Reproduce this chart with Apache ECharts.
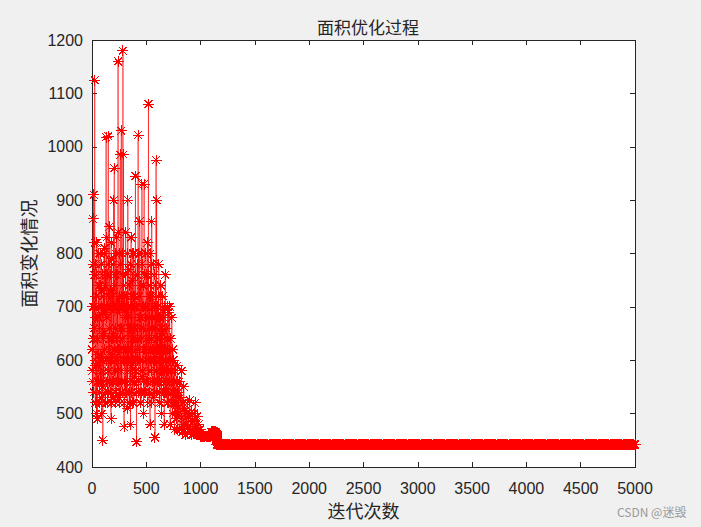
<!DOCTYPE html>
<html><head><meta charset="utf-8">
<script src="https://cdn.jsdelivr.net/npm/echarts/dist/echarts.min.js"></script>
<style>html,body{margin:0;padding:0;background:#f0f0f0;}#c{width:701px;height:527px;}#c svg path{shape-rendering:crispEdges;}</style>
</head><body><div id="c"></div>
<script>
// Iterations 1..995 (noisy search phase)
const earlyIter = [
1,5,10,15,20,25,30,35,40,45,50,55,60,65,70,75,80,85,90,95,
100,105,110,115,120,125,130,135,140,145,150,155,160,165,170,175,180,185,190,195,
200,205,210,215,220,225,230,235,240,245,250,255,260,265,270,275,280,285,290,295,
300,305,310,315,320,325,330,335,340,345,350,355,360,365,370,375,380,385,390,395,
400,405,410,415,420,425,430,435,440,445,450,455,460,465,470,475,480,485,490,495,
500,505,510,515,520,525,530,535,540,545,550,555,560,565,570,575,580,585,590,595,
600,605,610,615,620,625,630,635,640,645,650,655,660,665,670,675,680,685,690,695,
700,705,710,715,720,725,730,735,740,745,750,755,760,765,770,775,780,785,790,795,
800,805,810,815,820,825,830,835,840,845,850,855,860,865,870,875,880,885,890,895,
900,905,910,915,920,925,930,935,940,945,950,955,960,965,970,975,980,985,990,995];
const earlyArea = [
620,560,865,910,700,1125,520,780,590,820,490,680,610,740,540,800,575,700,500,650,
450,720,580,810,540,690,1018,600,760,520,1020,640,850,560,730,490,790,610,700,530,
900,960,580,760,520,830,640,710,1160,560,800,620,985,540,1030,660,760,1180,985,475,
720,560,840,600,690,510,900,620,770,540,700,480,830,590,750,520,660,800,570,720,
945,600,447,780,640,1022,560,720,860,520,680,800,930,570,740,500,930,620,700,540,
760,600,820,520,1080,640,720,480,800,580,860,620,700,530,780,600,455,740,975,900,
560,700,620,780,520,680,600,740,500,650,720,560,690,480,620,760,540,660,580,700,
520,690,600,700,480,640,560,680,500,620,540,600,470,580,520,560,490,590,470,540,
500,560,470,530,490,580,465,520,480,550,470,510,460,500,480,520,465,495,470,500,
525,470,490,460,505,470,485,462,500,470,520,465,480,462,495,470,462,480,462,470];
// Extra samples in the dense band
const midIter = [
3,8,13,18,23,28,33,38,43,48,53,58,63,68,73,78,83,88,93,98,
103,108,113,118,123,128,133,138,143,148,153,158,163,168,173,178,183,188,193,198,
203,208,213,218,223,228,233,238,243,248,253,258,263,268,273,278,283,288,293,298,
303,308,313,318,323,328,333,338,343,348,353,358,363,368,373,378,383,388,393,398,
403,408,413,418,423,428,433,438,443,448,453,458,463,468,473,478,483,488,493,498,
503,508,513,518,523,528,533,538,543,548,553,558,563,568,573,578,583,588,593,598,
603,608,613,618,623,628,633,638,643,648,653,658,663,668,673,678,683,688,693,698,
703,708,713,718,723,728,733,738,743,748,753,758,763,768,773,778,783,788,793,798];
const midArea = [
580,700,640,540,760,600,680,520,720,560,640,590,700,520,660,610,560,730,600,550,
640,560,700,620,520,760,600,680,540,720,580,660,620,700,540,640,600,720,560,650,
620,700,540,660,600,760,560,690,620,530,720,600,660,580,700,540,640,620,700,560,
600,680,540,720,620,560,700,600,520,660,620,580,700,540,640,600,720,560,660,600,
620,540,700,600,660,560,720,620,580,680,540,640,700,600,560,660,620,540,680,600,
640,560,700,620,580,660,540,720,600,640,560,680,620,600,540,700,600,660,580,640,
620,560,680,600,540,640,580,660,560,620,600,540,640,580,620,560,600,540,620,580,
580,540,620,560,600,520,580,540,600,520,560,540,580,500,540,520,560,500,530,510];
const extraIter = [
6,11,16,21,26,31,36,41,46,51,56,61,66,71,76,81,86,91,96,101,
106,111,116,121,126,131,136,141,146,151,156,161,166,171,176,181,186,191,196,201,
206,211,216,221,226,231,236,241,246,251,256,261,266,271,276,281,286,291,296,301,
306,311,316,321,326,331,336,341,346,351,356,361,366,371,376,381,386,391,396,401,
406,411,416,421,426,431,436,441,446,451,456,461,466,471,476,481,486,491,496,501,
506,511,516,521,526,531,536,541,546,551,556,561,566,571,576,581,586,591,596,601,
606,611,616,621,626,631,636,641,646,651,656,661,666,671,676,681,686,691,696,701];
const extraArea = [
700,780,540,660,820,590,720,500,760,640,560,800,680,520,740,600,780,530,690,760,
560,800,650,520,740,600,830,560,700,780,540,660,760,600,820,520,700,640,780,560,
740,620,800,540,700,760,580,840,620,700,520,780,640,720,560,800,600,740,520,700,
620,760,540,700,800,580,680,740,520,660,780,600,720,560,800,640,520,700,760,580,
700,560,760,620,540,800,680,600,740,520,660,780,580,700,620,760,540,680,800,600,
560,700,760,600,680,540,740,620,780,520,660,720,600,760,560,680,740,620,540,700,
640,720,560,680,600,740,520,660,700,580,620,680,540,700,600,560,660,520,640,580];
// Plateau phase
const stepIter = [1000,1010,1020,1030,1040,1050,1060,1070,1080,1090,1100,1110,1120,1130,1140];
const stepArea = [458,458,458,458,458,458,458,458,458,458,466,466,466,466,466];
// Converged phase
const tailIter = [
1150,1160,1170,1180,1190,
1200,1210,1220,1230,1240,1250,1260,1270,1280,1290,
1300,1310,1320,1330,1340,1350,1360,1370,1380,1390,
1400,1410,1420,1430,1440,1450,1460,1470,1480,1490,
1500,1510,1520,1530,1540,1550,1560,1570,1580,1590,
1600,1610,1620,1630,1640,1650,1660,1670,1680,1690,
1700,1710,1720,1730,1740,1750,1760,1770,1780,1790,
1800,1810,1820,1830,1840,1850,1860,1870,1880,1890,
1900,1910,1920,1930,1940,1950,1960,1970,1980,1990,
2000,2010,2020,2030,2040,2050,2060,2070,2080,2090,
2100,2110,2120,2130,2140,2150,2160,2170,2180,2190,
2200,2210,2220,2230,2240,2250,2260,2270,2280,2290,
2300,2310,2320,2330,2340,2350,2360,2370,2380,2390,
2400,2410,2420,2430,2440,2450,2460,2470,2480,2490,
2500,2510,2520,2530,2540,2550,2560,2570,2580,2590,
2600,2610,2620,2630,2640,2650,2660,2670,2680,2690,
2700,2710,2720,2730,2740,2750,2760,2770,2780,2790,
2800,2810,2820,2830,2840,2850,2860,2870,2880,2890,
2900,2910,2920,2930,2940,2950,2960,2970,2980,2990,
3000,3010,3020,3030,3040,3050,3060,3070,3080,3090,
3100,3110,3120,3130,3140,3150,3160,3170,3180,3190,
3200,3210,3220,3230,3240,3250,3260,3270,3280,3290,
3300,3310,3320,3330,3340,3350,3360,3370,3380,3390,
3400,3410,3420,3430,3440,3450,3460,3470,3480,3490,
3500,3510,3520,3530,3540,3550,3560,3570,3580,3590,
3600,3610,3620,3630,3640,3650,3660,3670,3680,3690,
3700,3710,3720,3730,3740,3750,3760,3770,3780,3790,
3800,3810,3820,3830,3840,3850,3860,3870,3880,3890,
3900,3910,3920,3930,3940,3950,3960,3970,3980,3990,
4000,4010,4020,4030,4040,4050,4060,4070,4080,4090,
4100,4110,4120,4130,4140,4150,4160,4170,4180,4190,
4200,4210,4220,4230,4240,4250,4260,4270,4280,4290,
4300,4310,4320,4330,4340,4350,4360,4370,4380,4390,
4400,4410,4420,4430,4440,4450,4460,4470,4480,4490,
4500,4510,4520,4530,4540,4550,4560,4570,4580,4590,
4600,4610,4620,4630,4640,4650,4660,4670,4680,4690,
4700,4710,4720,4730,4740,4750,4760,4770,4780,4790,
4800,4810,4820,4830,4840,4850,4860,4870,4880,4890,
4900,4910,4920,4930,4940,4950,4960,4970,4980,4990,
5000];
const tailArea = [
442,442,442,442,442,
442,442,442,442,442,442,442,442,442,442,
442,442,442,442,442,442,442,442,442,442,
442,442,442,442,442,442,442,442,442,442,
442,442,442,442,442,442,442,442,442,442,
442,442,442,442,442,442,442,442,442,442,
442,442,442,442,442,442,442,442,442,442,
442,442,442,442,442,442,442,442,442,442,
442,442,442,442,442,442,442,442,442,442,
442,442,442,442,442,442,442,442,442,442,
442,442,442,442,442,442,442,442,442,442,
442,442,442,442,442,442,442,442,442,442,
442,442,442,442,442,442,442,442,442,442,
442,442,442,442,442,442,442,442,442,442,
442,442,442,442,442,442,442,442,442,442,
442,442,442,442,442,442,442,442,442,442,
442,442,442,442,442,442,442,442,442,442,
442,442,442,442,442,442,442,442,442,442,
442,442,442,442,442,442,442,442,442,442,
442,442,442,442,442,442,442,442,442,442,
442,442,442,442,442,442,442,442,442,442,
442,442,442,442,442,442,442,442,442,442,
442,442,442,442,442,442,442,442,442,442,
442,442,442,442,442,442,442,442,442,442,
442,442,442,442,442,442,442,442,442,442,
442,442,442,442,442,442,442,442,442,442,
442,442,442,442,442,442,442,442,442,442,
442,442,442,442,442,442,442,442,442,442,
442,442,442,442,442,442,442,442,442,442,
442,442,442,442,442,442,442,442,442,442,
442,442,442,442,442,442,442,442,442,442,
442,442,442,442,442,442,442,442,442,442,
442,442,442,442,442,442,442,442,442,442,
442,442,442,442,442,442,442,442,442,442,
442,442,442,442,442,442,442,442,442,442,
442,442,442,442,442,442,442,442,442,442,
442,442,442,442,442,442,442,442,442,442,
442,442,442,442,442,442,442,442,442,442,
442,442,442,442,442,442,442,442,442,442,
442];

const titleText = '面积优化过程';
const xName = '迭代次数';
const yName = '面积变化情况';
const watermark = 'CSDN @迷毁';

const pairs = (xs, ys) => xs.map((x, i) => [x, ys[i]]);
// merge the noisy phase in iteration order
const early = pairs(earlyIter, earlyArea)
  .concat(pairs(midIter, midArea), pairs(extraIter, extraArea))
  .sort((a, b) => a[0] - b[0]);
const settled = pairs(stepIter, stepArea).concat(pairs(tailIter, tailArea));
const data = early.concat(settled);

const axisColor = '#262626';
const cjk = '"Noto Sans CJK SC", sans-serif';
const num = '"Liberation Sans", Arial, sans-serif';
const asterisk = 'path://M5,0L5,10M0,5L10,5M1.5,1.5L8.5,8.5M1.5,8.5L8.5,1.5';

function xAx(pos, showLabel) {
  return {
    type: 'value', min: 0, max: 5000, interval: 500, position: pos,
    name: showLabel ? xName : '', nameLocation: 'middle', nameGap: 31,
    nameTextStyle: {fontFamily: cjk, fontSize: 18, color: axisColor},
    axisLine: {show: true, onZero: false, lineStyle: {color: axisColor, width: 1}},
    axisTick: {show: true, inside: true, length: 5, lineStyle: {color: axisColor}},
    axisLabel: {show: showLabel, margin: 13, fontSize: 16, color: axisColor, fontFamily: num, formatter: v => String(v)},
    splitLine: {show: false}
  };
}
function yAx(pos, showLabel) {
  return {
    type: 'value', min: 400, max: 1200, interval: 100, position: pos,
    name: showLabel ? yName : '', nameLocation: 'middle', nameGap: 43, nameRotate: 90,
    nameTextStyle: {fontFamily: cjk, fontSize: 18, color: axisColor},
    axisLine: {show: true, onZero: false, lineStyle: {color: axisColor, width: 1}},
    axisTick: {show: true, inside: true, length: 5, lineStyle: {color: axisColor}},
    axisLabel: {show: showLabel, margin: 9, padding: [14, 0, 0, 0], fontSize: 16, color: axisColor, fontFamily: num, formatter: v => String(v)},
    splitLine: {show: false}
  };
}

const chart = echarts.init(document.getElementById('c'), null, {renderer: 'svg'});
chart.setOption({
  animation: false,
  backgroundColor: '#f0f0f0',
  title: {
    text: titleText, left: 363, top: 13, textAlign: 'center',
    textStyle: {fontFamily: cjk, fontSize: 17, fontWeight: 'normal', color: axisColor}
  },
  grid: {left: 92, top: 40, width: 543, height: 427, show: true, backgroundColor: '#ffffff', borderColor: axisColor, borderWidth: 1},
  xAxis: [xAx('bottom', true), xAx('top', false)],
  yAxis: [yAx('left', true), yAx('right', false)],
  series: [{
    // overlapping markers of the converged phase merge into a solid band
    type: 'line', data: settled, xAxisIndex: 0, yAxisIndex: 0,
    showSymbol: false, clip: false, step: 'end',
    lineStyle: {color: '#ff0000', width: 10, cap: 'butt', join: 'bevel'},
    emphasis: {disabled: true}
  }, {
    type: 'line', data: data, xAxisIndex: 0, yAxisIndex: 0,
    showSymbol: false, clip: false,
    lineStyle: {color: '#ff0000', width: 0.6},
    emphasis: {disabled: true}
  }, {
    type: 'scatter', data: data, xAxisIndex: 0, yAxisIndex: 0,
    symbol: asterisk, symbolSize: 11, clip: false, large: false,
    progressive: 0,
    itemStyle: {color: '#ff0000', borderColor: '#ff0000', borderWidth: 1, opacity: 1},
    emphasis: {disabled: true}
  }],
  graphic: [{
    type: 'text', left: 617, top: 505,
    style: {text: watermark, fill: '#9a9a9a', font: '12px ' + cjk}
  }]
});
</script></body></html>
